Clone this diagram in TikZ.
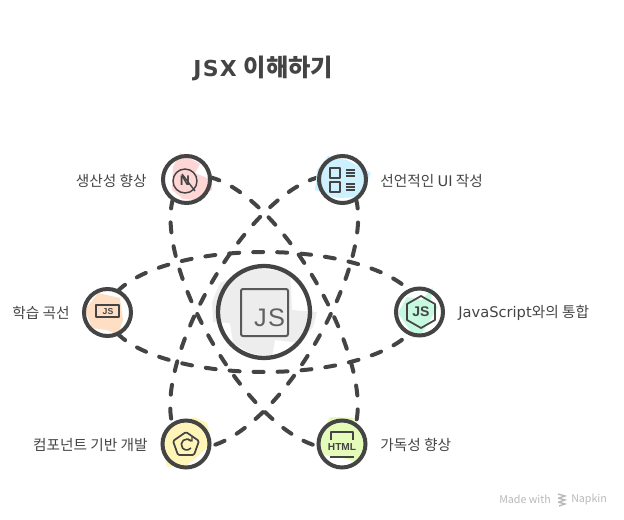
\documentclass[tikz,border=0pt]{standalone}
\usepackage{fontspec}
\setmainfont{Noto Sans CJK KR}
\newfontfamily\latinf{Liberation Sans}
\newfontfamily\headf{DejaVu Sans}
\pgfdeclarelayer{orbit}\pgfdeclarelayer{disc}\pgfdeclarelayer{blob}
\pgfsetlayers{orbit,disc,blob,main}
\definecolor{ink}{HTML}{444444}
\definecolor{cpink}{HTML}{FFD6D6}
\definecolor{cblue}{HTML}{CDF1FF}
\definecolor{cpeach}{HTML}{FFDFC4}
\definecolor{cmint}{HTML}{C6FAE0}
\definecolor{cyel}{HTML}{FFF5B8}
\definecolor{cgreen}{HTML}{E4FBBA}
\tikzset{
 ring/.style={circle,draw=ink,line width=3pt,minimum size=35.25pt,inner sep=0pt},
 ringbig/.style={circle,draw=ink,line width=3.2pt,minimum size=69pt,inner sep=0pt},
 orbitline/.style={draw=ink,line width=3pt,line cap=round,dash pattern=on 7.5pt off 10.5pt},
 lab/.style={font=\fontsize{11pt}{12pt}\selectfont,text=ink,inner sep=0pt},
 icon/.style={draw=ink,line width=1pt,line join=round},
 iconthick/.style={draw=ink,line width=1.3pt,line join=round}
}
\begin{document}
\begin{tikzpicture}[x=0.75pt,y=-0.75pt]
\useasboundingbox (0,0) rectangle (624,520);
% rings
\node[ringbig] (C) at (264,312) {};
\node[ring] (N) at (186.5,179.5) {};
\node[ring] (B) at (342.5,179.5) {};
\node[ring] (L) at (107.5,312.5) {};
\node[ring] (R) at (419.5,312) {};
\node[ring] (Y) at (186,444) {};
\node[ring] (G) at (342,444) {};
% white discs and colour blobs
\begin{pgfonlayer}{disc}
\fill[white] (C.center) circle (48);
\foreach \n in {N,B,L,R,Y,G} \fill[white] (\n.center) circle (25);
\end{pgfonlayer}
\begin{pgfonlayer}{blob}
\fill[black!7] (253,268)--(290,272)--(292,310)--(317,312)--(313,327)--(300,343)--(275,340)--(272,357)--(250,353)--(233,343)--(230,323)--(213,322)--(212,302)--(220,283)--cycle;
\fill[cpink] (180,153)--(200,164)--(195,173)--(212,180)--(212,190)--(195,200)--(183,199)--(172,190)--(173,167)--cycle;
\fill[cblue] (328,156)--(347,160)--(371,173)--(363,190)--(357,197)--(340,198)--(333,197)--(315,190)--(317,170)--cycle;
\fill[cpeach] (98,293)--(120,298)--(123,320)--(118,335)--(107,330)--(92,328)--(85,310)--cycle;
\fill[cmint] (407,297)--(422,300)--(433,287)--(430,303)--(438,307)--(422,333)--(412,338)--(410,330)--(398,313)--cycle;
\fill[cyel] (195,417)--(207,423)--(212,443)--(197,457)--(187,465)--(167,467)--(162,443)--(170,428)--cycle;
\fill[cgreen] (330,417)--(353,418)--(367,440)--(360,463)--(340,457)--(322,455)--(317,440)--cycle;
\end{pgfonlayer}
% orbits
\begin{pgfonlayer}{orbit}
\coordinate (a1) at (264,252); \coordinate (a2) at (264,372);
\coordinate (a3) at (316,282); \coordinate (a4) at (212,342);
\coordinate (a5) at (316,342); \coordinate (a6) at (212,282);
\path[orbitline] (L.center) .. controls +(0,-33) and +(-87,0) .. (a1) .. controls +(87,0) and +(0,-33) .. (R.center);
\path[orbitline] (L.center) .. controls +(0,33) and +(-87,0) .. (a2) .. controls +(87,0) and +(0,33) .. (R.center);
\path[orbitline] (N.center) .. controls +(28.6,-16.5) and +(-43.5,-75.3) .. (a3) .. controls +(43.5,75.3) and +(28.6,-16.5) .. (G.center);
\path[orbitline] (N.center) .. controls +(-28.6,16.5) and +(-43.5,-75.3) .. (a4) .. controls +(43.5,75.3) and +(-28.6,16.5) .. (G.center);
\path[orbitline] (B.center) .. controls +(28.6,16.5) and +(43.5,-75.3) .. (a5) .. controls +(-43.5,75.3) and +(28.6,16.5) .. (Y.center);
\path[orbitline] (B.center) .. controls +(-28.6,-16.5) and +(43.5,-75.3) .. (a6) .. controls +(-43.5,75.3) and +(-28.6,-16.5) .. (Y.center);
\end{pgfonlayer}
% centre icon
\draw[draw=black!65,line width=1.5pt,rounded corners=1.5pt] (241,289) rectangle (288,336);
\node[inner sep=0pt,text=black!62] (cjs) at (269.5,318) {\latinf\fontsize{19pt}{19pt}\selectfont J\kern1pt S};
% N icon
\draw[icon,line width=1.1pt] (185,181) circle (12);
\node[inner sep=0pt,text=ink] (ntxt) at (185,181) {\latinf\bfseries\fontsize{10.5pt}{10.5pt}\selectfont N};
\draw[icon] (182,174) -- (195,191);
% blue icon
\draw[icon] (330,168) rectangle (340,178);
\draw[icon] (330,182) rectangle (340,192);
\foreach \y in {170,173,176,184,187,190} \draw[icon,line width=.8pt] (346,\y) -- (355,\y);
% left JS icon
\draw[iconthick] (96,305) rectangle (119,317);
\node[inner sep=0pt,text=ink] (ljs) at (108,311.5) {\latinf\bfseries\fontsize{6.5pt}{6.5pt}\selectfont JS};
% right hex icon
\draw[iconthick] (421,296) -- (435,304) -- (435,320) -- (421,328) -- (407,320) -- (407,304) -- cycle;
\node[inner sep=0pt,text=ink] (rjs) at (421,312) {\latinf\bfseries\fontsize{10.5pt}{10.5pt}\selectfont JS};
% yellow pentagon icon
\draw[iconthick,rounded corners=1pt] (186,432) -- (199,441) -- (194,455) -- (178,455) -- (173,441) -- cycle;
\draw[icon,line width=1.2pt] (191,441) arc (-40:-320:5.5);
\draw[icon,line width=1pt] (188,439) -- (192,441) -- (192,437);
% green HTML icon
\draw[iconthick] (331,440) -- (331,432) -- (353,432) -- (353,440);
\draw[iconthick] (330,457) -- (354,457);
\node[inner sep=0pt,text=ink] (htm) at (342,447.5) {\latinf\bfseries\fontsize{7.6pt}{8pt}\selectfont HTML};
% texts
\node[inner sep=0pt,text=ink,anchor=west] (title) at (193,68.5) {\fontsize{18.2pt}{19pt}\selectfont\bfseries {\headf\bfseries\fontsize{16.5pt}{17pt}\selectfont J\kern1pt S\kern1pt X}\kern1pt{} 이해하기};
\node[lab,anchor=east] (l1) at (147,181) {생산성 향상};
\node[lab,anchor=west] (l2) at (380,181) {선언적인 {\headf UI} 작성};
\node[lab,anchor=east] (l3) at (70,313) {학습 곡선};
\node[lab,anchor=west] (l4) at (458,313) {{\headf JavaScript}와의 통합};
\node[lab,anchor=east] (l5) at (148,445) {컴포넌트 기반 개발};
\node[lab,anchor=west] (l6) at (380,445) {가독성 향상};
% footer
\node[inner sep=0pt,anchor=west,text=black!28] (made) at (499,499) {\fontsize{8pt}{9pt}\selectfont Made with};
\node[inner sep=0pt,anchor=west,text=black!28] (nap) at (571,499) {\fontsize{8pt}{9pt}\selectfont Napkin};
\foreach \y in {494,498,502} \draw[black!28,line width=1pt] (558,\y) -- (565,\y+2) -- (559,\y+4);
\end{tikzpicture}
\end{document}
